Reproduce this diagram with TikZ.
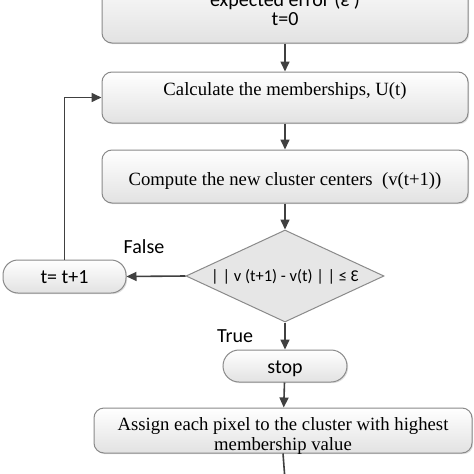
\documentclass[tikz,border=0pt]{standalone}
\usepackage{fontspec}
\setmainfont{Liberation Serif}
\newfontfamily\calfont{Carlito}
\usetikzlibrary{shapes.geometric,arrows.meta,shadows}
\definecolor{linec}{HTML}{404040}
\definecolor{boxline}{HTML}{8A8A8A}
\definecolor{boxbot}{HTML}{E2E2E2}
\definecolor{diafill}{HTML}{E6E6E6}
\newcommand{\rs}[2]{\raisebox{#1}[0pt][0pt]{#2}}
\begin{document}
\begin{tikzpicture}[x=1pt,y=-1pt,
  procbox/.style={rectangle, rounded corners=10pt, draw=boxline, line width=1pt,
    top color=white, bottom color=boxbot, inner sep=0pt,
    font=\fontsize{18.7}{20}\selectfont,
    drop shadow={opacity=0.25, shadow xshift=1.2pt, shadow yshift=-1.2pt, fill=gray}},
  sansbox/.style={procbox, font=\calfont\fontsize{20}{19}\selectfont},
  decide/.style={diamond, aspect=2.15, draw=boxline, fill=diafill, line width=1pt,
    inner sep=0pt, minimum width=198pt, minimum height=92pt,
    font=\calfont\fontsize{16.5}{20}\selectfont},
  flow/.style={draw=linec, line width=1.6pt, -{Triangle[length=10pt,width=9pt]}},
  plain/.style={draw=linec, line width=1.6pt},
  lbl/.style={font=\calfont\fontsize{20}{22}\selectfont, inner sep=0pt}]
\clip (0,0) rectangle (474,474);
\useasboundingbox (0,0) rectangle (474,474);
\fill[white] (0,0) rectangle (474,474);

\node[sansbox, minimum width=366pt, minimum height=73pt] (init) at (285,6.5)
  {\rs{-18.5pt}{\begin{tabular}[b]{@{}c@{}}expected error (ε')\\t=0\end{tabular}}};
\node[procbox, minimum width=366pt, minimum height=51pt] (calc) at (285,97.5)
  {\rs{2.5pt}{Calculate the memberships, U(t)}};
\node[procbox, minimum width=366pt, minimum height=53pt] (compute) at (285,176.5)
  {\rs{-8.5pt}{Compute the new cluster centers~ (v(t+1))}};
\node[decide] (dec) at (285,276)
  {\rs{-5.5pt}{| | v (t+1) - v(t) | | ≤ Ɛ}};
\node[sansbox, rounded corners=15pt, minimum width=123pt, minimum height=33pt] (tplus) at (64.5,276.5)
  {\rs{-6.5pt}{t= t+1}};
\node[sansbox, rounded corners=16pt, minimum width=124pt, minimum height=32pt] (stop) at (285,366)
  {\rs{-7pt}{stop}};
\node[procbox, minimum width=378pt, minimum height=45pt] (assign) at (283,430.5)
  {\rs{-20pt}{\begin{tabular}[b]{@{}c@{}}Assign each pixel to the cluster with highest\\membership value\end{tabular}}};

\node[lbl] (false) at (144,247) {False};
\node[lbl] (true) at (235,336) {True};

\coordinate (cont) at (285,480);
\draw[flow] (init) -- (calc);
\draw[flow] (calc) -- (compute);
\draw[flow] (compute) -- (dec);
\draw[flow] (dec.west) -- (tplus.east);
\draw[flow] (tplus.north) |- (calc.west);
\draw[flow] (dec.south) -- (stop.north);
\draw[flow] (stop) -- (assign);
\draw[plain] (assign.south) -- (cont);
\end{tikzpicture}
\end{document}
